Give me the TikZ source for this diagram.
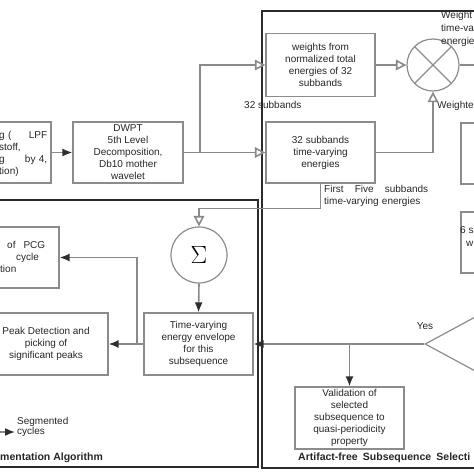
\documentclass[tikz,border=0pt]{standalone}
\usepackage{fontspec}
\setmainfont{Liberation Sans}
\usetikzlibrary{arrows.meta,shapes.geometric}
\definecolor{boxgray}{HTML}{8C8C8C}
\definecolor{conngray}{HTML}{8A8A8A}
\definecolor{panelblack}{HTML}{2B2B2B}
\definecolor{txtgray}{HTML}{262626}
\definecolor{tipdark}{HTML}{2E2E2E}
\newcommand{\dfont}{\fontsize{10}{12}\selectfont}
\newcommand{\tfont}{\fontsize{10.5}{12}\selectfont\bfseries}
\tikzset{%
	box/.style={draw=boxgray,line width=1.2pt,inner sep=0.5pt,align=center,font=\dfont,text=txtgray},
	junction/.style={circle,draw=boxgray,line width=1.2pt,inner sep=0pt},
	txt/.style={inner sep=0pt,font=\dfont,text=txtgray},
	panel/.style={draw=panelblack,line width=1.8pt},
	conn/.style={draw=conngray,line width=1.6pt},
	fillarrow/.style={conn,-{Latex[length=10pt,width=8pt,color=tipdark]}},
	openarrow/.style={conn,-{Triangle[open,length=10.5pt,width=10.5pt]}},
}
\begin{document}
\begin{tikzpicture}[x=1pt,y=-1pt]
			\useasboundingbox (0,0) rectangle (474,474);
			\clip (0,0) rectangle (474,474);
			
			%okvirja
			\draw[panel] (-10,200) rectangle (258,467);
			\draw[panel] (262,11) rectangle (490,468);
			
			%bloki
			\node[box,minimum width=101pt,minimum height=61pt] (pre) at (0.5,152.5) {};
			\node[txt,anchor=west,text width=48pt,align=left] (pretxt) at (-1,153.5) {g (\hfill LPF\\stoff,\\g\hfill by 4,\\tion)};
			\node[box,minimum width=110pt,minimum height=61pt] (dwpt) at (128,152.5) {DWPT\\5th Level\\Decomposition,\\Db10 mother\\wavelet};
			\node[box,minimum width=109pt,minimum height=63pt] (weights) at (320.5,65) {weights from\\normalized total\\energies of 32\\subbands};
			\node[box,minimum width=109pt,minimum height=61pt] (sub32) at (320.5,152.5) {32 subbands\\time-varying\\energies};
			\node[junction,minimum size=52pt] (mult) at (433,65) {};
			\draw[boxgray,line width=1.2pt] (mult.north west) -- (mult.south east) (mult.north east) -- (mult.south west);
			\node[box,minimum width=100pt,minimum height=61pt] (rbox1) at (511,153.5) {};
			\node[box,minimum width=100pt,minimum height=61pt] (rbox2) at (511,242.5) {};
			\node[txt,anchor=west] (rtxt1) at (460,230) {6 s};
			\node[txt,anchor=west] (rtxt2) at (466,244) {w};
			\node[diamond,draw=boxgray,line width=1.2pt,inner sep=0pt,minimum width=160pt,minimum height=86.7pt] (check) at (505,344) {};
			\node[junction,minimum size=56pt,text=black] (sigma) at (199,255) {\fontsize{26}{26}\selectfont$\Sigma$};
			\node[box,minimum width=109pt,minimum height=62pt] (env) at (198.5,344) {Time-varying\\energy envelope\\for this\\subsequence};
			\node[box,minimum width=124pt,minimum height=62pt] (peak) at (46,344) {Peak Detection and\\picking of\\significant peaks};
			\node[box,minimum width=70pt,minimum height=61pt] (cycbox) at (24,257.5) {};
			\node[txt,anchor=west,align=left] (cyctxt) at (0,257) {\hspace*{7pt}of\hspace{8pt}PCG\\\hspace*{16pt}cycle\\tion};
			\node[box,minimum width=109pt,minimum height=62pt] (valid) at (349.5,418) {Validation of\\selected\\subsequence to\\quasi-periodicity\\property};
			
			%napisi
			\node[txt,anchor=west] (lbl32) at (244,105) {32 subbands};
			\node[txt,anchor=west,text width=104pt,align=left] (lblfive) at (324,196) {First\hfill Five\hfill subbands\\time-varying energies};
			\node[txt,anchor=west,align=left] (lblw1) at (441,29) {Weight\\[1pt]time-va\\[1pt]energie};
			\node[txt,anchor=west] (lblw2) at (437,106) {Weighte};
			\node[txt] (lblyes) at (425,326) {Yes};
			\node[txt,anchor=west,align=left,font=\fontsize{10}{10}\selectfont] (lblseg) at (17,427) {Segmented\\cycles};
			\node[txt,anchor=west,font=\tfont] (lblalg) at (0,458) {mentation Algorithm};
			\node[txt,anchor=west,font=\tfont] (lblart) at (298,458) {Artifact-free\enspace Subsequence\enspace Selecti};
			
			%povezave
			\coordinate (split) at (200,152.5);
			\coordinate (multout) at (490,65);
			\coordinate (tap) at (137,344);
			\coordinate (segin) at (-5,432);
			\coordinate (segend) at (15,432);
			\draw[fillarrow] (pre.east) -- (dwpt.west);
			\draw[conn] (dwpt.east) -- (split);
			\draw[openarrow] (split) |- (weights.west);
			\draw[openarrow] (split) -- (sub32.west);
			\draw[openarrow] (weights.east) -- (mult.west);
			\draw[openarrow] (sub32.east) -| (mult.south);
			\draw[conn] (mult.east) -- (multout);
			\draw[openarrow] (sub32.south) -- ++(0,25) -| (sigma.north);
			\draw[fillarrow] (sigma.south) -- (env.north);
			\draw[fillarrow] (check.west) -- (env.east);
			\draw[fillarrow] (valid.north |- check.west) -- (valid.north);
			\draw[fillarrow] (env.west) -- (peak.east);
			\draw[fillarrow] (tap) |- (cycbox.east);
			\draw[fillarrow] (segin) -- (segend);
		\end{tikzpicture}
\end{document}
